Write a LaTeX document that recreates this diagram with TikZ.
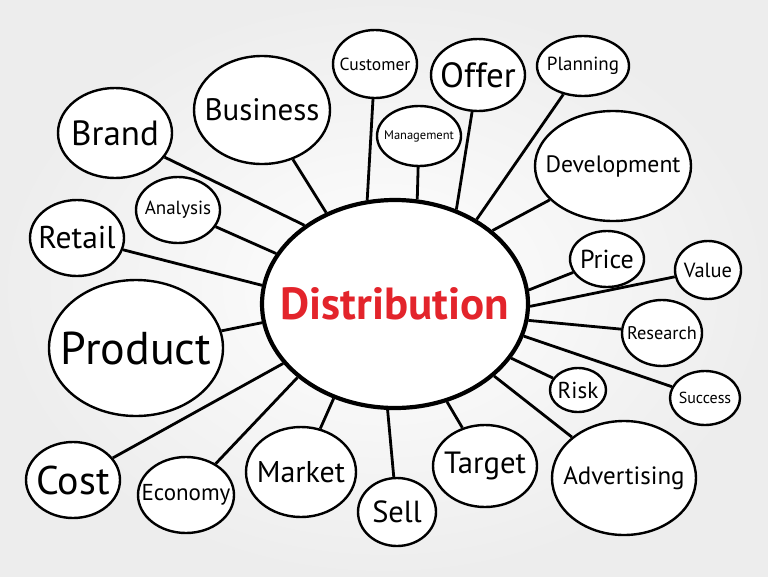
\documentclass[tikz,border=0pt]{standalone}
\usepackage{fontspec}
\setmainfont{PT Sans}
\usetikzlibrary{shapes.geometric}
\definecolor{hubred}{HTML}{E3242B}

\begin{document}
\begin{tikzpicture}[
    x=1pt, y=-1pt,
    bubble/.style={ellipse, draw, line width=2.4pt, fill=white, inner sep=0pt},
    hub/.style={bubble, line width=4.2pt},
    spoke/.style={line width=2.8pt}
]
    \shade[inner color=white, outer color=black!7] (0,0) rectangle (768,576);
    \useasboundingbox (0,0) rectangle (768,576);
    % central idea (text as a centred label so the ellipse keeps its size)
    \node[hub, minimum width=266pt, minimum height=208pt,
          label={[font=\fontsize{45}{45}\selectfont\bfseries, text=hubred]center:Distribution}]
          (dist) at (395,304) {};
    % satellites: name/x/y/width/height/font size/text
    \foreach \n/\x/\y/\w/\h/\fs/\t in {
        brand/115/133/114/90/35/Brand,
        business/262/110/136/108/31/Business,
        cust/375/64/84/68/17.5/Customer,
        offer/478/75/94/72/35/Offer,
        plan/583/66/92/60/19/Planning,
        mgmt/419/136/84/60/12.5/Management,
        devel/613/166/156/110/23.7/Development,
        analysis/178/210/84/66/19/Analysis,
        retail/77/238/94/76/31.5/Retail,
        product/136/348/174/136/46/Product,
        price/607/259/74/56/26/Price,
        value/708/270/66/58/20.5/Value,
        research/662/333/80/66/18.3/Research,
        risk/578/390/56/44/23/Risk,
        success/705/398/70/54/16/Success,
        advert/624/478/144/114/25/Advertising,
        target/485/466/104/82/30.7/Target,
        sell/397/512/78/68/30.5/Sell,
        market/301/472/110/90/30/Market,
        economy/186/495/96/76/23/Economy,
        cost/73/480/94/76/40/Cost}
        \node[bubble, minimum width=\w pt, minimum height=\h pt,
              label={[font=\fontsize{\fs}{\fs}\selectfont]center:\t}] (\n) at (\x,\y) {};
    % spokes: satellite/angle on the central border
    \foreach \n/\a in {brand/139,business/127,cust/105,mgmt/78,offer/57,plan/46,devel/37,
                       price/6,value/-1,research/-7,success/-14,risk/-25,advert/-36,
                       target/-62,sell/-94,market/-123,economy/-143,cost/-152,
                       product/-172,retail/172,analysis/157}
        \draw[spoke] (dist.\a) -- (\n);
\end{tikzpicture}
\end{document}
